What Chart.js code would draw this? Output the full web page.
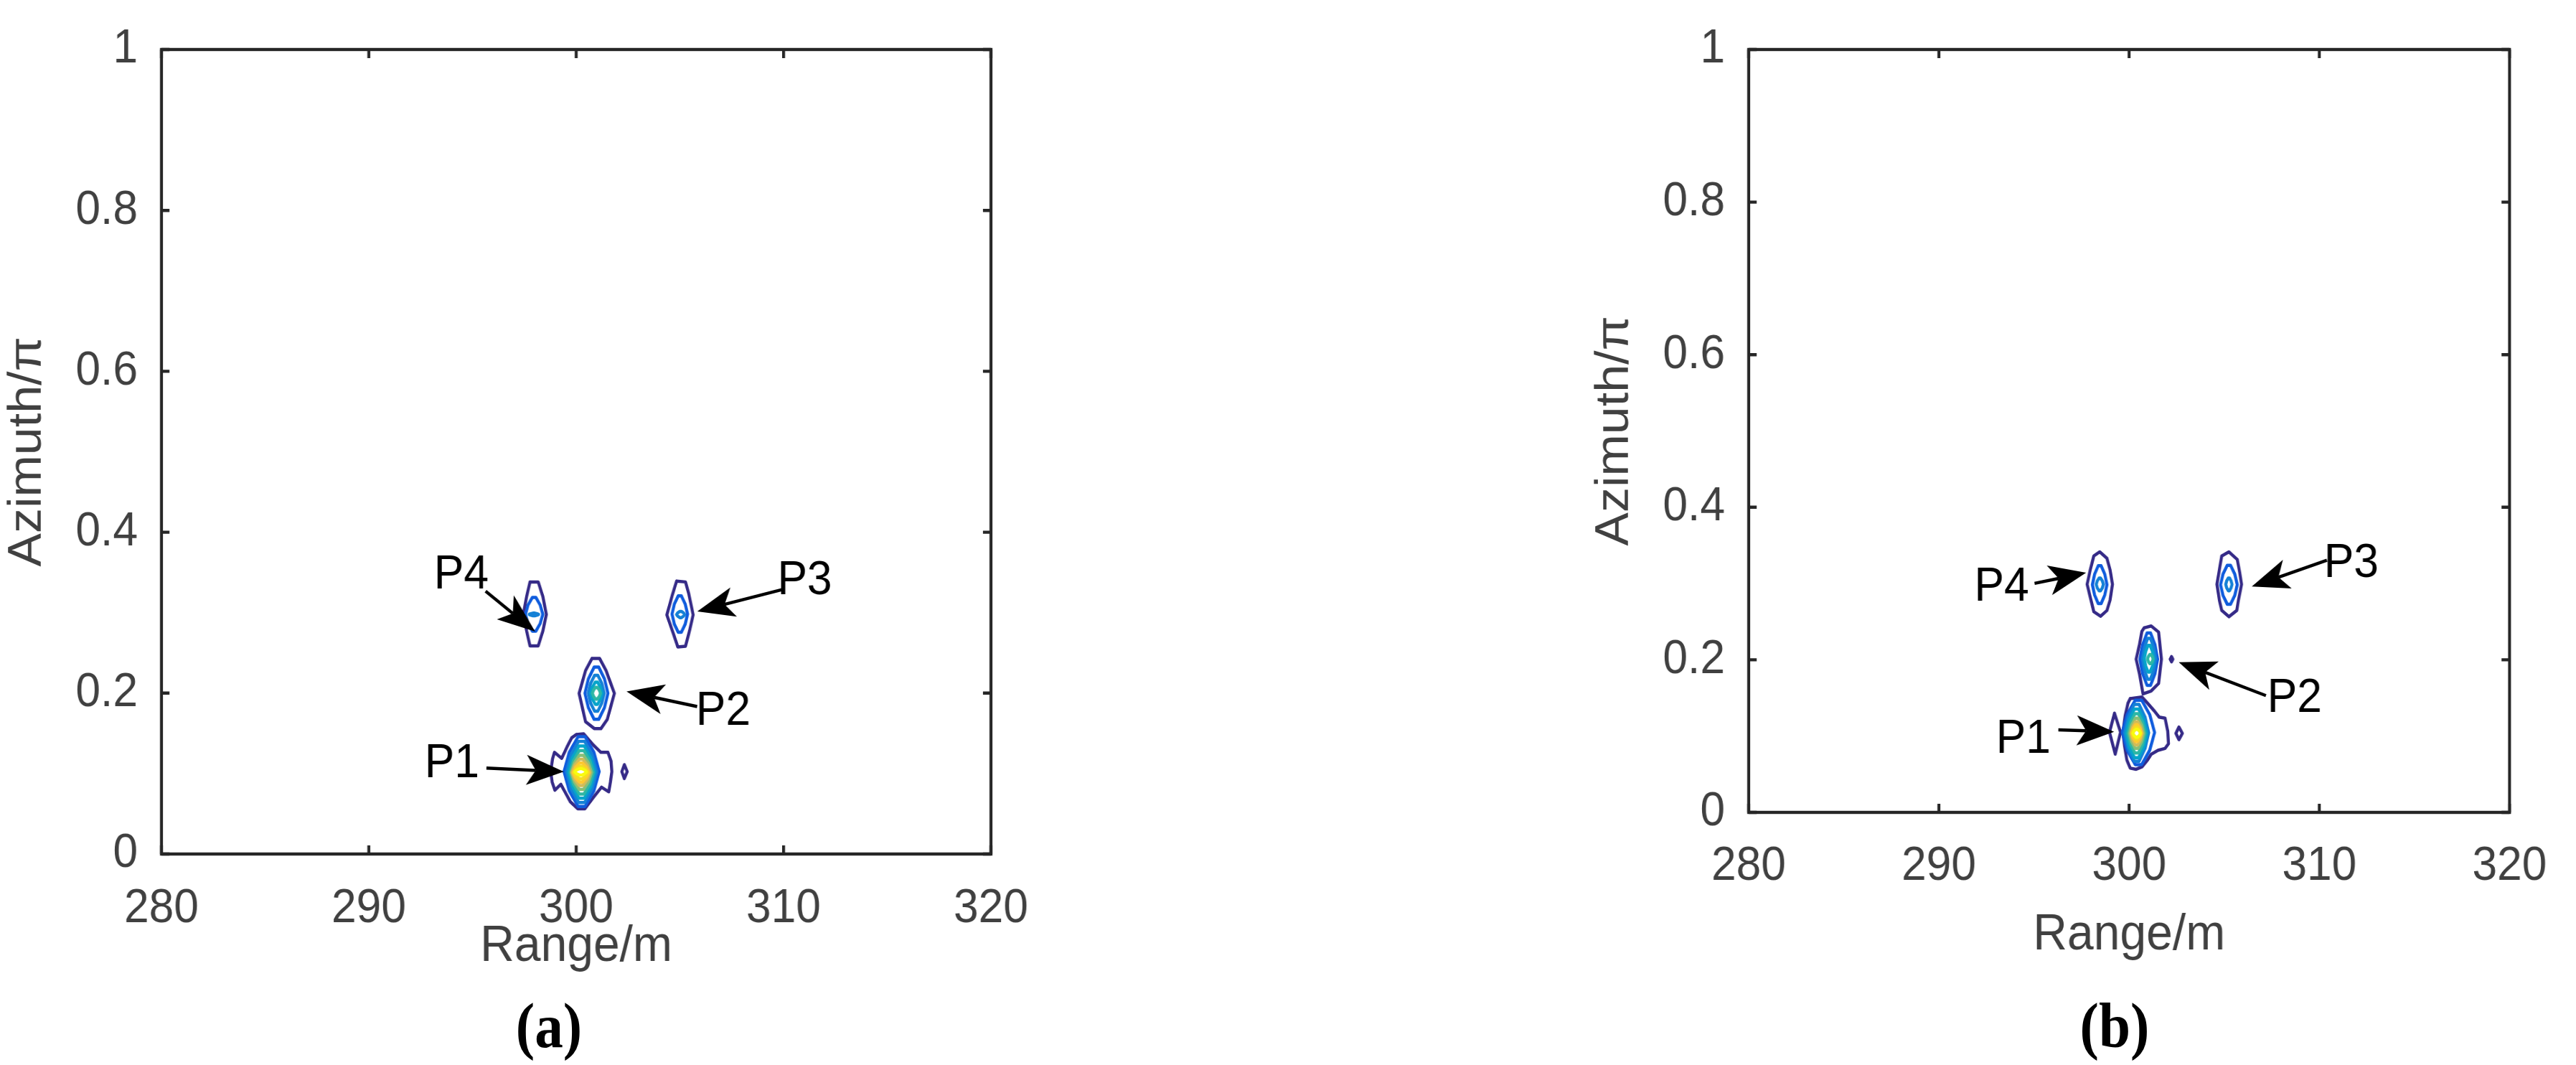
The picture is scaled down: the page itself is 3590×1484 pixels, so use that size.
<!DOCTYPE html>
<html>
<head>
<meta charset="utf-8">
<script src="https://cdn.jsdelivr.net/npm/chart.js@4.4.1/dist/chart.umd.min.js"></script>
<style>
  html, body { margin: 0; padding: 0; background: #fff; }
  body { width: 3590px; height: 1484px; position: relative; overflow: hidden; }
  .panel { position: absolute; top: 0; transform: scaleX(0.93); transform-origin: 0 0; }
  .caption {
    position: absolute; top: 1386px; white-space: nowrap;
    font: bold 88px "Liberation Serif", "Times New Roman", serif; line-height: 1; color: #000;
    transform: translateX(-50%) scaleX(0.9);
  }
</style>
</head>
<body>
<canvas id="chartA" class="panel" width="1600" height="1484" style="left:0px"></canvas>
<canvas id="chartB" class="panel" width="1480" height="1484" style="left:2212px"></canvas>
<div class="caption" style="left:765px">(a)</div>
<div class="caption" style="left:2947px">(b)</div>

<script>
// axis ticks
const rangeTicks = [280, 290, 300, 310, 320];
const azimuthTicks = [0, 0.2, 0.4, 0.6, 0.8, 1];

// contour level colours (parula), index = level
const levelColors = ['#352a87', '#0f5cdd', '#1481d6', '#06a4ca', '#2eb7a4',
                     '#87bf77', '#d1bb59', '#fec832', '#f6dc22', '#f9fb0e'];

// ---- panel (a) ----
// outermost contour lines, [range, azimuth] vertices
const aOuter = [
  [[297.77,0.338],[298.17,0.338],[298.39,0.3203],[298.56,0.2978],[298.39,0.277],[298.17,0.2588],[297.77,0.2588],[297.61,0.277],[297.45,0.2978],[297.61,0.3203]],
  [[304.84,0.3391],[305.27,0.3382],[305.43,0.3232],[305.64,0.2972],[305.46,0.277],[305.27,0.2583],[304.9,0.2574],[304.72,0.2713],[304.37,0.2972],[304.65,0.3232]],
  [[300.76,0.243],[301.13,0.243],[301.44,0.228],[301.84,0.1997],[301.5,0.1674],[301.19,0.1558],[300.88,0.1558],[300.45,0.1645],[300.14,0.1997],[300.45,0.228]],
  [[300.01,0.1486],[300.36,0.1495],[300.82,0.1356],[301.19,0.1264],[301.53,0.1264],[301.68,0.1154],[301.72,0.1024],[301.65,0.0895],[301.57,0.0773],[301.22,0.0831],[300.88,0.0721],[300.42,0.0563],[300.07,0.0563],[299.72,0.0649],[299.38,0.0808],[299.26,0.0866],[298.97,0.0794],[298.84,0.0895],[298.77,0.1024],[298.86,0.1183],[298.95,0.1264],[299.3,0.1189],[299.55,0.1328],[299.78,0.1443]],
  [[302.2,0.1024],[302.32,0.1111],[302.46,0.1024],[302.32,0.0938]]
];
// inner contour rings: [range left, range right, azimuth bottom, azimuth top, level]
const aRings = [
  [297.55,298.39,0.277,0.3189,1], [297.73,298.19,0.2962,0.2994,2],
  [304.62,305.37,0.2756,0.3209,1], [304.84,305.23,0.2938,0.3016,2],
  [300.42,301.53,0.1674,0.2323,1], [300.58,301.35,0.1775,0.2222,2],
  [300.7,301.25,0.1861,0.2136,3], [300.78,301.17,0.1925,0.2072,4],
  [299.41,301.11,0.0592,0.1458,1], [299.53,300.99,0.0641,0.14,2],
  [299.62,300.9,0.0693,0.1342,3], [299.7,300.82,0.0745,0.1284,4],
  [299.76,300.74,0.0802,0.1227,5], [299.8,300.67,0.0852,0.1177,6],
  [299.85,300.61,0.0895,0.1131,7], [299.88,300.57,0.0935,0.1091,8],
  [299.93,300.5,0.0981,0.1062,9]
];
// arrows: [label, label range, label azimuth, tail range, tail azimuth, tip range, tip azimuth]
const aArrows = [
  ['P4', 294.46, 0.3463, 295.63, 0.3267, 298.02, 0.2765],
  ['P3', 311.02, 0.339, 309.99, 0.329, 305.84, 0.3016],
  ['P2', 307.09, 0.1766, 305.83, 0.1833, 302.43, 0.202],
  ['P1', 294.01, 0.1117, 295.67, 0.1068, 299.4, 0.1024]
];

// ---- panel (b) ----
const bOuter = [
  [[298.145,0.3361],[298.459,0.3415],[298.836,0.333],[299.0,0.3178],[299.125,0.299],[299.0,0.2783],[298.836,0.2647],[298.497,0.2571],[298.145,0.2631],[297.994,0.2783],[297.793,0.299],[297.957,0.3178]],
  [[304.869,0.3361],[305.246,0.3415],[305.686,0.3315],[305.811,0.3148],[305.912,0.299],[305.748,0.2783],[305.66,0.2647],[305.246,0.2565],[304.869,0.2647],[304.743,0.2783],[304.617,0.299],[304.743,0.3178]],
  [[300.79,0.2419],[301.16,0.2443],[301.55,0.2364],[301.7,0.2008],[301.55,0.1689],[301.16,0.1592],[300.73,0.1553],[300.55,0.1811],[300.37,0.2008],[300.55,0.2206],[300.67,0.2373]],
  [[300.06,0.1492],[300.67,0.1513],[300.97,0.1431],[301.34,0.1325],[301.58,0.1249],[301.89,0.1234],[302.03,0.1066],[302.07,0.0899],[301.89,0.0839],[301.52,0.0814],[301.16,0.0763],[300.97,0.0687],[300.67,0.0596],[300.37,0.0565],[300.06,0.058],[299.88,0.0687],[299.76,0.0869],[299.67,0.1051],[299.79,0.1264],[299.94,0.1431]],
  [[299.23,0.13],[299.55,0.1051],[299.27,0.0763],[298.97,0.1051]],
  [[302.46,0.1036],[302.62,0.1118],[302.8,0.1036],[302.62,0.0954]],
  [[302.16,0.2008],[302.23,0.2042],[302.3,0.2008],[302.23,0.1974]]
];
const bRings = [
  [298.07,298.836,0.2738,0.3233,1], [298.27,298.65,0.2905,0.3072,2],
  [304.806,305.686,0.2729,0.3239,1], [305.08,305.41,0.2905,0.3072,2],
  [300.57,301.5,0.1665,0.2352,1], [300.7,301.4,0.1745,0.2282,2],
  [300.8,301.3,0.184,0.219,3], [300.97,301.26,0.195,0.207,4],
  [299.64,301.34,0.0626,0.1471,1], [299.76,301.03,0.0671,0.1416,2],
  [299.84,300.94,0.0717,0.1355,3], [299.94,300.85,0.0778,0.1294,4],
  [300.02,300.77,0.0839,0.1234,5], [300.09,300.69,0.0884,0.1188,6],
  [300.13,300.65,0.093,0.1149,7], [300.18,300.61,0.096,0.1118,8],
  [300.2,300.6,0.0985,0.109,9]
];
const bArrows = [
  ['P4', 293.3, 0.2951, 295.03, 0.3002, 297.74, 0.3142],
  ['P3', 311.68, 0.3263, 310.4, 0.3306, 306.45, 0.296],
  ['P2', 308.7, 0.1495, 307.19, 0.1531, 302.61, 0.1969],
  ['P1', 294.44, 0.0957, 296.28, 0.1082, 299.21, 0.1057]
];

const FONT = '"Liberation Sans", Arial, Helvetica, sans-serif';
const SX = 0.93;   // horizontal squeeze of the original figure

// lens-shaped ring through the four extents of an inner contour
function lensRing([rL, rR, aB, aT]) {
  const rc = (rL + rR) / 2, h = (rR - rL) / 2, am = (aB + aT) / 2, v = (aT - aB) / 2;
  return [[rL, am], [rc - 0.7 * h, am + 0.55 * v], [rc - 0.2 * h, aT], [rc + 0.2 * h, aT],
          [rc + 0.7 * h, am + 0.55 * v], [rR, am], [rc + 0.7 * h, am - 0.55 * v],
          [rc + 0.2 * h, aB], [rc - 0.2 * h, aB], [rc - 0.7 * h, am - 0.55 * v]];
}

function contourSet(poly, level) {
  const pts = poly.map(([r, a]) => ({ x: r, y: a }));
  pts.push(pts[0]);
  return {
    data: pts,
    showLine: true,
    borderColor: levelColors[level],
    borderWidth: 4.5,
    pointRadius: 0,
    fill: false,
    tension: 0,
    borderJoinStyle: 'round',
    borderCapStyle: 'round',
    order: 100 - level
  };
}

// box, inside ticks, arrows and their labels
function overlayPlugin(arrows) {
  return {
    id: 'overlay',
    afterDatasetsDraw(chart) {
      const ctx = chart.ctx, x = chart.scales.x, y = chart.scales.y;
      ctx.save();
      ctx.fillStyle = '#000';
      ctx.strokeStyle = '#000';
      arrows.forEach(([label, lr, la, tr, ta, hr, ha]) => {
        const x0 = x.getPixelForValue(tr), y0 = y.getPixelForValue(ta);
        const x1 = x.getPixelForValue(hr), y1 = y.getPixelForValue(ha);
        const len = Math.hypot(x1 - x0, y1 - y0);
        const ux = (x1 - x0) / len, uy = (y1 - y0) / len;
        const hl = 56, hw = 21;
        const bx = x1 - ux * hl, by = y1 - uy * hl;
        const nx = x1 - ux * hl * 0.75, ny = y1 - uy * hl * 0.75;
        ctx.lineWidth = 4.5;
        ctx.beginPath();
        ctx.moveTo(x0, y0);
        ctx.lineTo(nx, ny);
        ctx.stroke();
        ctx.beginPath();
        ctx.moveTo(x1, y1);
        ctx.lineTo(bx - uy * hw, by + ux * hw);
        ctx.lineTo(nx, ny);
        ctx.lineTo(bx + uy * hw, by - ux * hw);
        ctx.closePath();
        ctx.fill();
        ctx.font = '67px ' + FONT;
        ctx.textAlign = 'center';
        ctx.textBaseline = 'middle';
        ctx.fillText(label, x.getPixelForValue(lr), y.getPixelForValue(la));
      });
      ctx.restore();
    },
    afterDraw(chart) {
      const ctx = chart.ctx, a = chart.chartArea, x = chart.scales.x, y = chart.scales.y;
      ctx.save();
      ctx.strokeStyle = '#262626';
      ctx.lineWidth = 4.4;
      ctx.lineCap = 'butt';
      ctx.strokeRect(a.left, a.top, a.right - a.left, a.bottom - a.top);
      ctx.beginPath();
      rangeTicks.forEach(v => {
        const px = x.getPixelForValue(v);
        ctx.moveTo(px, a.bottom); ctx.lineTo(px, a.bottom - 12);
        ctx.moveTo(px, a.top); ctx.lineTo(px, a.top + 12);
      });
      azimuthTicks.forEach(v => {
        const py = y.getPixelForValue(v);
        ctx.moveTo(a.left, py); ctx.lineTo(a.left + 12, py);
        ctx.moveTo(a.right, py); ctx.lineTo(a.right - 12, py);
      });
      ctx.stroke();
      ctx.restore();
    }
  };
}

function makePanel(canvasId, outer, rings, arrows, geo) {
  const datasets = [];
  outer.forEach(poly => datasets.push(contourSet(poly, 0)));
  rings.forEach(ext => datasets.push(contourSet(lensRing(ext), ext[4])));

  new Chart(document.getElementById(canvasId), {
    type: 'scatter',
    data: { datasets },
    options: {
      responsive: false,
      animation: false,
      events: [],
      layout: { padding: { left: 0, top: 35, right: geo.padRight, bottom: geo.padBottom } },
      plugins: { legend: { display: false }, tooltip: { enabled: false } },
      scales: {
        x: {
          type: 'linear', position: 'bottom', min: 280, max: 320,
          afterBuildTicks: s => { s.ticks = rangeTicks.map(v => ({ value: v })); },
          afterFit: s => { s.height = geo.xHeight; },
          grid: { display: false, drawTicks: false },
          border: { display: false },
          ticks: {
            color: '#404040', padding: geo.xTickPad, maxRotation: 0, autoSkip: false,
            font: { family: FONT, size: 67, lineHeight: 1 },
            callback: v => String(v)
          },
          title: {
            display: true, text: 'Range/m', color: '#404040', padding: 0,
            font: { family: FONT, size: 71, lineHeight: 1.2 }
          }
        },
        y: {
          type: 'linear', min: 0, max: 1,
          afterBuildTicks: s => { s.ticks = azimuthTicks.map(v => ({ value: v })); },
          afterFit: s => { s.width = 225 / SX; },
          grid: { display: false, drawTicks: false },
          border: { display: false },
          ticks: {
            color: '#404040', padding: 33 / SX, autoSkip: false,
            font: { family: FONT, size: 67, lineHeight: 1 },
            callback: v => String(v)
          },
          title: {
            display: true, text: 'Azimuth/π', color: '#404040', padding: 0,
            font: { family: FONT, size: 70, lineHeight: 1.2 }
          }
        }
      }
    },
    plugins: [overlayPlugin(arrows)]
  });
}

makePanel('chartA', aOuter, aRings, aArrows,
  { padRight: 1600 - 1381 / SX, padBottom: 122, xHeight: 172, xTickPad: 43 });
makePanel('chartB', bOuter, bRings, bArrows,
  { padRight: 1480 - (3533 - 2212) / SX, padBottom: 138, xHeight: 214, xTickPad: 42 });
</script>
</body>
</html>
